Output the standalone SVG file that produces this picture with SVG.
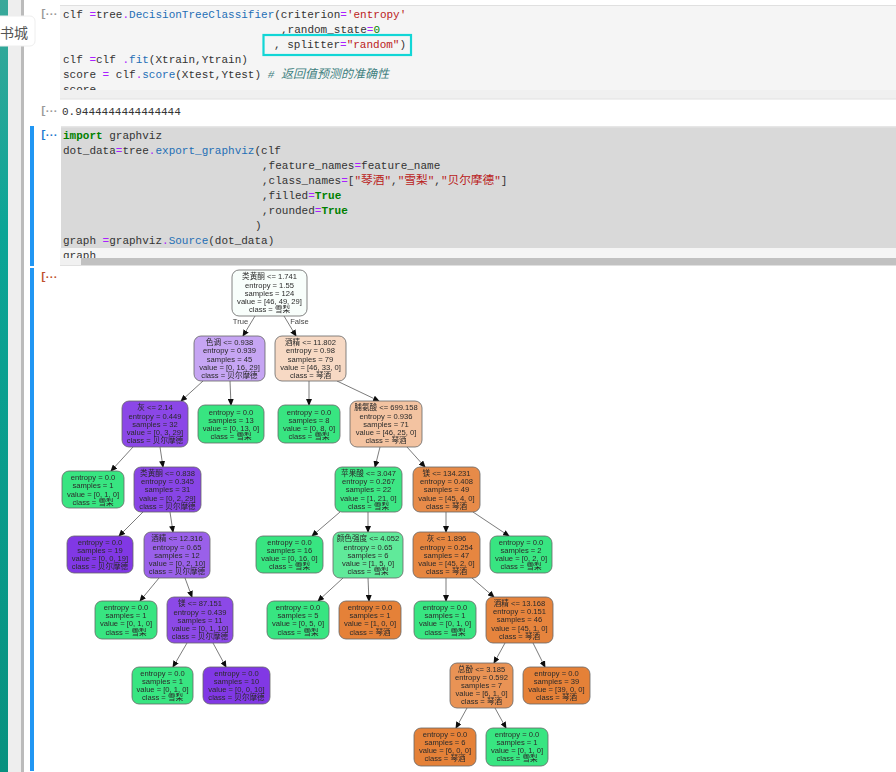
<svg xmlns="http://www.w3.org/2000/svg" width="896" height="772" viewBox="0 0 896 772">
<style>
.code{font-family:"Liberation Mono","Noto Sans CJK SC",monospace;font-size:11px;fill:#333;white-space:pre}
.kw{fill:#008000;font-weight:bold}.op{fill:#a2f}.str{fill:#ba2121}.fn{fill:#1f6fb5}.num{fill:#080}.cm{fill:#408080;font-style:italic}
.cj{font-size:11.7px}.cj2{font-size:12px}
.pr{font-family:"Liberation Mono",monospace;font-size:11px;font-weight:bold;letter-spacing:-2.6px;fill:#999}
.n rect{stroke:#666;stroke-width:.8}
.n text,.el{font-family:"Liberation Sans","Noto Sans CJK SC",sans-serif;font-size:7.6px;fill:#2a2a2a;text-anchor:middle}
.el{fill:#444}
.e{stroke:#444;stroke-width:.7;fill:none;marker-end:url(#a)}
.g{fill:#39e581}.o{fill:#e58139}.p{fill:#8139e5}
</style>
<defs>
<marker id="a" markerWidth="7" markerHeight="6" refX="6" refY="3" orient="auto" markerUnits="userSpaceOnUse"><path d="M0 0L7 3L0 6z" fill="#111"/></marker>
<filter id="b" x="-5%" y="-5%" width="110%" height="110%"><feGaussianBlur stdDeviation="0.3"/></filter>
<linearGradient id="t" x1="0" y1="0" x2="0" y2="1"><stop offset="0" stop-color="#3aa89a"/><stop offset=".3" stop-color="#0ba596"/><stop offset="1" stop-color="#07917f"/></linearGradient>
</defs>
<rect width="896" height="772" fill="#fff"/>
<g id="sidebar">
<rect x="0" y="0" width="8" height="772" fill="url(#t)"/>
<rect x="8" y="0" width="13" height="772" fill="#eee"/>
<rect x="21" y="0" width="3" height="772" fill="#bbb"/>
<rect x="-8" y="16" width="43" height="30" rx="5" fill="#fff" stroke="#eee"/>
<text x="0" y="38" font-family="Noto Sans CJK SC,sans-serif" font-size="14" fill="#555">书城</text>
<rect x="30" y="126" width="4" height="140" fill="#2196f3"/>
<rect x="30" y="268" width="4" height="503" fill="#2196f3"/>
</g>
<g id="cells">
<rect x="60" y="5" width="836" height="94" fill="#f5f5f5"/>
<rect x="60" y="5" width="836" height="1" fill="#e0e0e0"/>
<rect x="61" y="126" width="835" height="122" fill="#d9d9d9"/>
<rect x="61" y="126" width="835" height="1.500" fill="#e6e6e6"/>
<rect x="60" y="248" width="836" height="10" fill="#f5f5f5"/>
<text class="pr" x="40" y="17">[···</text>
<text class="pr" x="40" y="114">[···</text>
<text class="pr" x="40" y="138" style="fill:#1e7ad0">[···</text>
<text class="pr" x="40" y="280" style="fill:#c0502d">[···</text>
<text class="code" x="63" y="18">clf <tspan class="op">=</tspan>tree<tspan class="op">.</tspan><tspan class="fn">DecisionTreeClassifier</tspan>(criterion<tspan class="op">=</tspan><tspan class="str">'entropy'</tspan></text>
<text class="code" x="281" y="33">,random_state<tspan class="op">=</tspan><tspan class="num">0</tspan></text>
<text class="code" x="274" y="48">, splitter<tspan class="op">=</tspan><tspan class="str">"random"</tspan>)</text>
<text class="code" x="63" y="63">clf <tspan class="op">=</tspan>clf <tspan class="op">.</tspan><tspan class="fn">fit</tspan>(Xtrain,Ytrain)</text>
<text class="code" x="63" y="78">score <tspan class="op">=</tspan> clf<tspan class="op">.</tspan><tspan class="fn">score</tspan>(Xtest,Ytest) <tspan class="cm"># <tspan class="cj2">返回值预测的准确性</tspan></tspan></text>
<text class="code" x="63" y="93">score</text>
<rect x="60" y="90" width="836" height="8.500" fill="#f0f0f0"/>
<rect x="60" y="98.500" width="836" height="1" fill="#e0e0e0"/>
<rect x="263.500" y="35" width="147.500" height="20" fill="none" stroke="#12d6d6" stroke-width="2.200"/>
<text class="code" x="62" y="115">0.9444444444444444</text>
<text class="code" x="63" y="139"><tspan class="kw">import</tspan> graphviz</text>
<text class="code" x="63" y="154">dot_data<tspan class="op">=</tspan>tree<tspan class="op">.</tspan><tspan class="fn">export_graphviz</tspan>(clf</text>
<text class="code" x="262" y="169">,feature_names<tspan class="op">=</tspan>feature_name</text>
<text class="code" x="262" y="184">,class_names<tspan class="op">=</tspan>[<tspan class="str">"<tspan class="cj">琴酒</tspan>"</tspan>,<tspan class="str">"<tspan class="cj">雪梨</tspan>"</tspan>,<tspan class="str">"<tspan class="cj">贝尔摩德</tspan>"</tspan>]</text>
<text class="code" x="262" y="199">,filled<tspan class="op">=</tspan><tspan class="kw">True</tspan></text>
<text class="code" x="262" y="214">,rounded<tspan class="op">=</tspan><tspan class="kw">True</tspan></text>
<text class="code" x="255" y="229">)</text>
<text class="code" x="63" y="244">graph <tspan class="op">=</tspan>graphviz<tspan class="op">.</tspan><tspan class="fn">Source</tspan>(dot_data)</text>
<text class="code" x="63" y="259">graph</text>
<rect x="60" y="258" width="836" height="8" fill="#f1f1f1"/>
<rect x="81" y="258" width="815" height="7" fill="#c1c1c1"/>
<rect x="60" y="265" width="836" height="1" fill="#e0e0e0"/>
</g>
<g id="connectors" filter="url(#b)">
<path class="e" d="M255 316L243 336"/><path class="e" d="M284 316L296 336"/>
<path class="e" d="M203 381L181 401"/><path class="e" d="M230 381L231 405"/>
<path class="e" d="M309 381L309 405"/><path class="e" d="M337 381L379 401"/>
<path class="e" d="M133 447L111 471"/><path class="e" d="M160 447L163 467"/>
<path class="e" d="M143 512L119 536"/><path class="e" d="M170 512L173 532"/>
<path class="e" d="M159 578L140 601"/><path class="e" d="M185 578L192 597"/>
<path class="e" d="M187 643L173 667"/><path class="e" d="M213 643L226 667"/>
<path class="e" d="M380 447L375 467"/><path class="e" d="M407 447L425 467"/>
<path class="e" d="M340 512L312 536"/><path class="e" d="M368 512L368 532"/>
<path class="e" d="M343 578L318 601"/><path class="e" d="M368 578L369 601"/>
<path class="e" d="M446 512L446 532"/><path class="e" d="M473 512L509 536"/>
<path class="e" d="M446 578L446 601"/><path class="e" d="M472 578L494 597"/>
<path class="e" d="M505 643L494 663"/><path class="e" d="M533 643L545 667"/>
<path class="e" d="M467 708L456 728"/><path class="e" d="M495 708L506 728"/>
<text class="el" x="240.500" y="324">True</text>
<text class="el" x="299.500" y="324">False</text>
</g>
<g id="tree" filter="url(#b)">
<g id="n0" class="n"><rect x="232" y="270" width="75" height="46" rx="7" fill="#f8fefb"/><text x="269.500" y="279">类黄酮 &lt;= 1.741<tspan x="269.500" dy="8.700">entropy = 1.55</tspan><tspan x="269.500" dy="8">samples = 124</tspan><tspan x="269.500" dy="8">value = [46, 49, 29]</tspan><tspan x="269.500" dy="8.700">class = 雪梨</tspan></text></g>
<g id="n1" class="n"><rect x="194" y="336" width="71" height="45" rx="7" fill="#c6a5f3"/><text x="229.500" y="344.500">色调 &lt;= 0.938<tspan x="229.500" dy="8.500">entropy = 0.939</tspan><tspan x="229.500" dy="8.500">samples = 45</tspan><tspan x="229.500" dy="8">value = [0, 16, 29]</tspan><tspan x="229.500" dy="8.200">class = 贝尔摩德</tspan></text></g>
<g id="n2" class="n"><rect x="275" y="336" width="71" height="45" rx="7" fill="#f7d9c4"/><text x="310.500" y="344.500">酒精 &lt;= 11.802<tspan x="310.500" dy="8.500">entropy = 0.98</tspan><tspan x="310.500" dy="8.500">samples = 79</tspan><tspan x="310.500" dy="8">value = [46, 33, 0]</tspan><tspan x="310.500" dy="8.200">class = 琴酒</tspan></text></g>
<g id="n3" class="n"><rect x="122" y="401" width="66" height="46" rx="7" fill="#8b47e7"/><text x="155" y="410">灰 &lt;= 2.14<tspan x="155" dy="8.500">entropy = 0.449</tspan><tspan x="155" dy="8">samples = 32</tspan><tspan x="155" dy="8">value = [0, 3, 29]</tspan><tspan x="155" dy="8.500">class = 贝尔摩德</tspan></text></g>
<g id="n4" class="n"><rect x="198" y="405" width="66" height="38" rx="7" class="g"/><text x="231" y="414.500">entropy = 0.0<tspan x="231" dy="8">samples = 13</tspan><tspan x="231" dy="8">value = [0, 13, 0]</tspan><tspan x="231" dy="8">class = 雪梨</tspan></text></g>
<g id="n5" class="n"><rect x="278" y="405" width="62" height="38" rx="7" class="g"/><text x="309" y="414.500">entropy = 0.0<tspan x="309" dy="8">samples = 8</tspan><tspan x="309" dy="8">value = [0, 8, 0]</tspan><tspan x="309" dy="8">class = 雪梨</tspan></text></g>
<g id="n6" class="n"><rect x="350" y="401" width="72" height="46" rx="7" fill="#f3c3a1"/><text x="386" y="410">脯氨酸 &lt;= 699.158<tspan x="386" dy="8.500">entropy = 0.936</tspan><tspan x="386" dy="8">samples = 71</tspan><tspan x="386" dy="8">value = [46, 25, 0]</tspan><tspan x="386" dy="8.500">class = 琴酒</tspan></text></g>
<g id="n7" class="n"><rect x="62" y="471" width="62" height="37" rx="7" class="g"/><text x="93" y="480">entropy = 0.0<tspan x="93" dy="8">samples = 1</tspan><tspan x="93" dy="8.500">value = [0, 1, 0]</tspan><tspan x="93" dy="8">class = 雪梨</tspan></text></g>
<g id="n8" class="n"><rect x="134" y="467" width="67" height="45" rx="7" fill="#8844e6"/><text x="167.500" y="475.500">类黄酮 &lt;= 0.838<tspan x="167.500" dy="8.500">entropy = 0.345</tspan><tspan x="167.500" dy="8">samples = 31</tspan><tspan x="167.500" dy="8.700">value = [0, 2, 29]</tspan><tspan x="167.500" dy="8">class = 贝尔摩德</tspan></text></g>
<g id="n9" class="n"><rect x="335" y="467" width="67" height="45" rx="7" fill="#3ee684"/><text x="368.500" y="475.500">苹果酸 &lt;= 3.047<tspan x="368.500" dy="8.500">entropy = 0.267</tspan><tspan x="368.500" dy="8">samples = 22</tspan><tspan x="368.500" dy="8.700">value = [1, 21, 0]</tspan><tspan x="368.500" dy="8">class = 雪梨</tspan></text></g>
<g id="n10" class="n"><rect x="413" y="467" width="67" height="45" rx="7" fill="#e78b48"/><text x="446.500" y="475.500">镁 &lt;= 134.231<tspan x="446.500" dy="8.500">entropy = 0.408</tspan><tspan x="446.500" dy="8">samples = 49</tspan><tspan x="446.500" dy="8.700">value = [45, 4, 0]</tspan><tspan x="446.500" dy="8">class = 琴酒</tspan></text></g>
<g id="n11" class="n"><rect x="67" y="536" width="66" height="37" rx="7" fill="#8139e5"/><text x="100" y="544.500">entropy = 0.0<tspan x="100" dy="8.500">samples = 19</tspan><tspan x="100" dy="8">value = [0, 0, 19]</tspan><tspan x="100" dy="8">class = 贝尔摩德</tspan></text></g>
<g id="n12" class="n"><rect x="144" y="532" width="66" height="46" rx="7" fill="#9a61ea"/><text x="177" y="540.500">酒精 &lt;= 12.316<tspan x="177" dy="9">entropy = 0.65</tspan><tspan x="177" dy="8">samples = 12</tspan><tspan x="177" dy="8">value = [0, 2, 10]</tspan><tspan x="177" dy="8">class = 贝尔摩德</tspan></text></g>
<g id="n13" class="n"><rect x="256" y="536" width="67" height="37" rx="7" class="g"/><text x="289.500" y="544.500">entropy = 0.0<tspan x="289.500" dy="8.500">samples = 16</tspan><tspan x="289.500" dy="8">value = [0, 16, 0]</tspan><tspan x="289.500" dy="8">class = 雪梨</tspan></text></g>
<g id="n14" class="n"><rect x="333" y="532" width="70" height="46" rx="7" fill="#61ea9a"/><text x="368" y="540.500">颜色强度 &lt;= 4.052<tspan x="368" dy="9">entropy = 0.65</tspan><tspan x="368" dy="8">samples = 6</tspan><tspan x="368" dy="8">value = [1, 5, 0]</tspan><tspan x="368" dy="8">class = 雪梨</tspan></text></g>
<g id="n15" class="n"><rect x="413" y="532" width="67" height="46" rx="7" fill="#e68641"/><text x="446.500" y="540.500">灰 &lt;= 1.896<tspan x="446.500" dy="9">entropy = 0.254</tspan><tspan x="446.500" dy="8">samples = 47</tspan><tspan x="446.500" dy="8">value = [45, 2, 0]</tspan><tspan x="446.500" dy="8">class = 琴酒</tspan></text></g>
<g id="n16" class="n"><rect x="490" y="536" width="62" height="37" rx="7" class="g"/><text x="521" y="544.500">entropy = 0.0<tspan x="521" dy="8.500">samples = 2</tspan><tspan x="521" dy="8">value = [0, 2, 0]</tspan><tspan x="521" dy="8">class = 雪梨</tspan></text></g>
<g id="n17" class="n"><rect x="95" y="601" width="62" height="38" rx="7" class="g"/><text x="126" y="610">entropy = 0.0<tspan x="126" dy="8">samples = 1</tspan><tspan x="126" dy="8">value = [0, 1, 0]</tspan><tspan x="126" dy="8.500">class = 雪梨</tspan></text></g>
<g id="n18" class="n"><rect x="167" y="597" width="66" height="46" rx="7" fill="#8c49e7"/><text x="200" y="606">镁 &lt;= 87.151<tspan x="200" dy="8.500">entropy = 0.439</tspan><tspan x="200" dy="8">samples = 11</tspan><tspan x="200" dy="8.700">value = [0, 1, 10]</tspan><tspan x="200" dy="8">class = 贝尔摩德</tspan></text></g>
<g id="n19" class="n"><rect x="267" y="601" width="62" height="38" rx="7" class="g"/><text x="298" y="610">entropy = 0.0<tspan x="298" dy="8">samples = 5</tspan><tspan x="298" dy="8">value = [0, 5, 0]</tspan><tspan x="298" dy="8.500">class = 雪梨</tspan></text></g>
<g id="n20" class="n"><rect x="339" y="601" width="62" height="38" rx="7" class="o"/><text x="370" y="610">entropy = 0.0<tspan x="370" dy="8">samples = 1</tspan><tspan x="370" dy="8">value = [1, 0, 0]</tspan><tspan x="370" dy="8.500">class = 琴酒</tspan></text></g>
<g id="n21" class="n"><rect x="414" y="601" width="62" height="38" rx="7" class="g"/><text x="445" y="610">entropy = 0.0<tspan x="445" dy="8">samples = 1</tspan><tspan x="445" dy="8">value = [0, 1, 0]</tspan><tspan x="445" dy="8.500">class = 雪梨</tspan></text></g>
<g id="n22" class="n"><rect x="486" y="597" width="67" height="46" rx="7" fill="#e6843e"/><text x="519.500" y="606">酒精 &lt;= 13.168<tspan x="519.500" dy="8.200">entropy = 0.151</tspan><tspan x="519.500" dy="8">samples = 46</tspan><tspan x="519.500" dy="8.700">value = [45, 1, 0]</tspan><tspan x="519.500" dy="8">class = 琴酒</tspan></text></g>
<g id="n23" class="n"><rect x="132" y="667" width="61" height="37" rx="7" class="g"/><text x="162.500" y="675.500">entropy = 0.0<tspan x="162.500" dy="8.700">samples = 1</tspan><tspan x="162.500" dy="8">value = [0, 1, 0]</tspan><tspan x="162.500" dy="8">class = 雪梨</tspan></text></g>
<g id="n24" class="n"><rect x="203" y="667" width="67" height="37" rx="7" class="p"/><text x="236.500" y="675.500">entropy = 0.0<tspan x="236.500" dy="8.700">samples = 10</tspan><tspan x="236.500" dy="8">value = [0, 0, 10]</tspan><tspan x="236.500" dy="8">class = 贝尔摩德</tspan></text></g>
<g id="n25" class="n"><rect x="450" y="663" width="63" height="45" rx="7" fill="#e99355"/><text x="481.500" y="671.500">总酚 &lt;= 3.185<tspan x="481.500" dy="8">entropy = 0.592</tspan><tspan x="481.500" dy="8.700">samples = 7</tspan><tspan x="481.500" dy="8">value = [6, 1, 0]</tspan><tspan x="481.500" dy="8.200">class = 琴酒</tspan></text></g>
<g id="n26" class="n"><rect x="523" y="667" width="67" height="37" rx="7" class="o"/><text x="556.500" y="675.500">entropy = 0.0<tspan x="556.500" dy="8.700">samples = 39</tspan><tspan x="556.500" dy="8">value = [39, 0, 0]</tspan><tspan x="556.500" dy="8">class = 琴酒</tspan></text></g>
<g id="n27" class="n"><rect x="414" y="728" width="62" height="38" rx="7" class="o"/><text x="445" y="737">entropy = 0.0<tspan x="445" dy="8">samples = 6</tspan><tspan x="445" dy="8">value = [6, 0, 0]</tspan><tspan x="445" dy="8">class = 琴酒</tspan></text></g>
<g id="n28" class="n"><rect x="486" y="728" width="62" height="38" rx="7" class="g"/><text x="517" y="737">entropy = 0.0<tspan x="517" dy="8">samples = 1</tspan><tspan x="517" dy="8">value = [0, 1, 0]</tspan><tspan x="517" dy="8">class = 雪梨</tspan></text></g>
</g>
</svg>
